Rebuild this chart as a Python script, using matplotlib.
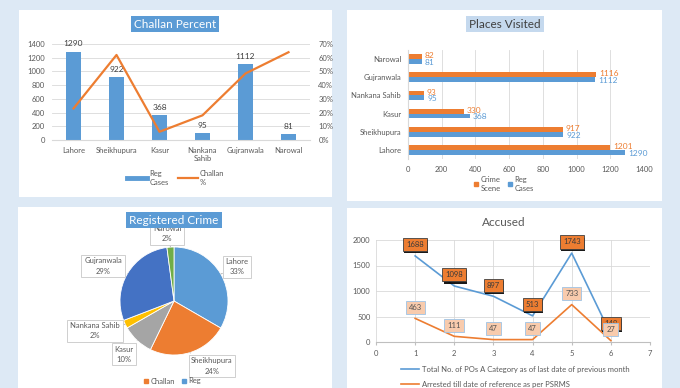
import numpy as np
import matplotlib.pyplot as plt
from matplotlib.patches import Rectangle
from matplotlib.lines import Line2D
import matplotlib.patheffects as pe

plt.rcParams['font.family'] = ['Lato', 'DejaVu Sans']

# data
districts = ['Lahore', 'Sheikhupura', 'Kasur', 'Nankana Sahib', 'Gujranwala', 'Narowal']
reg_cases = [1290, 922, 368, 95, 1112, 81]
challan_pct = [23, 62, 6, 18, 48.5, 64]
crime_scene = [1201, 917, 330, 93, 1116, 82]
months = [1, 2, 3, 4, 5, 6]
total_pos = [1688, 1098, 897, 513, 1743, 148]
arrested = [463, 111, 47, 47, 733, 27]

blue = '#5b9bd5'
orange = '#ed7d31'
pie_colors = ['#5b9bd5', '#ed7d31', '#a5a5a5', '#ffc000', '#4472c4', '#70ad47']
grid_c = '#d9d9d9'
txt_c = '#595959'

W, H = 680, 388
fig = plt.figure(figsize=(6.8, 3.88), dpi=100)
fig.patch.set_facecolor('#dde9f5')


def rect(x0, y0, x1, y1):
    return [x0 / W, 1 - y1 / H, (x1 - x0) / W, (y1 - y0) / H]


def panel(x0, y0, x1, y1):
    fig.add_artist(Rectangle((x0 / W, 1 - y1 / H), (x1 - x0) / W, (y1 - y0) / H,
                             transform=fig.transFigure, facecolor='white',
                             edgecolor='none', zorder=-1))


def title(x, y, s, fc, tc, size=8.5):
    fig.text(x / W, 1 - y / H, s, ha='center', va='center', color=tc, fontsize=size,
             bbox=dict(boxstyle='square,pad=0.25', fc=fc, ec='none'), zorder=5)


panel(19, 10, 332, 197)
panel(347, 10, 662, 201)
panel(18, 207, 332, 388)
panel(347, 208, 662, 388)

# ---- Challan Percent
ax1 = fig.add_axes(rect(52, 44, 310, 140))
x = np.arange(len(districts))
bars = ax1.bar(x, reg_cases, width=0.33, color=blue, zorder=2)
ax1.bar_label(bars, padding=3, fontsize=6, color='#404040')
ax1.set_xlim(-0.5, 5.5)
ax1.set_ylim(0, 1400)
ax1.set_yticks(range(0, 1401, 200))
ax1.set_xticks(x, ['Lahore', 'Sheikhupura', 'Kasur', 'Nankana\nSahib', 'Gujranwala', 'Narowal'])
ax1.grid(axis='y', color=grid_c, lw=0.6, zorder=0)
for s in ['top', 'right', 'left']:
    ax1.spines[s].set_visible(False)
ax1.spines['bottom'].set_color(grid_c)
ax1.tick_params(length=0, labelsize=5.5, labelcolor=txt_c, pad=5)
ax1b = ax1.twinx()
ax1b.plot(x, challan_pct, color=orange, lw=1.6)
ax1b.set_ylim(0, 70)
ax1b.set_yticks(range(0, 71, 10), [f'{v}%' for v in range(0, 71, 10)])
ax1b.tick_params(length=0, labelsize=5.5, labelcolor=txt_c, pad=6)
for s in ax1b.spines.values():
    s.set_visible(False)
fig.legend([Line2D([0], [0], color=blue, lw=3.5), Line2D([0], [0], color=orange, lw=1.6)],
           ['Reg\nCases', 'Challan\n%'], loc='center', bbox_to_anchor=(176 / W, 1 - 178 / H),
           ncol=2, frameon=False, fontsize=5.5, handlelength=2.6, columnspacing=1.2,
           labelcolor=txt_c, handletextpad=0.3)
title(175, 24, 'Challan Percent', blue, 'white')

# ---- Places Visited
ax2 = fig.add_axes(rect(408, 50, 644, 159))
h = 0.27
ax2.barh(x + h / 2, crime_scene, height=h, color=orange, zorder=2)
ax2.barh(x - h / 2, reg_cases, height=h, color=blue, zorder=2)
for i in x:
    ax2.text(crime_scene[i] + 18, i + h / 2 + 0.05, str(crime_scene[i]), color=orange,
             fontsize=6, va='center')
    ax2.text(reg_cases[i] + 18, i - h / 2 - 0.05, str(reg_cases[i]), color=blue,
             fontsize=6, va='center')
ax2.set_xlim(0, 1400)
ax2.set_ylim(-0.5, 5.5)
ax2.set_xticks(range(0, 1401, 200))
ax2.set_yticks(x, districts)
ax2.grid(axis='x', color=grid_c, lw=0.6, zorder=0)
for s in ['top', 'right', 'bottom']:
    ax2.spines[s].set_visible(False)
ax2.spines['left'].set_color(grid_c)
ax2.tick_params(length=0, labelsize=5.5, labelcolor=txt_c, pad=5)
fig.legend([Line2D([0], [0], marker='s', ls='none', color=orange, ms=3.5),
            Line2D([0], [0], marker='s', ls='none', color=blue, ms=3.5)],
           ['Crime\nScene', 'Reg\nCases'], loc='center', bbox_to_anchor=(503 / W, 1 - 184 / H),
           ncol=2, frameon=False, fontsize=5.5, handlelength=0.8, columnspacing=0.8,
           labelcolor=txt_c, handletextpad=0.2)
title(505, 24, 'Places Visited', '#c5d9ee', '#404040')

# ---- Registered Crime
ax3 = fig.add_axes(rect(120, 247, 228, 355))
wedges, _ = ax3.pie(reg_cases, colors=pie_colors, startangle=90, counterclock=False,
                    radius=1, wedgeprops=dict(lw=0.6, ec='white'))
ax3.set_xlim(-1, 1)
ax3.set_ylim(-1, 1)
ax3.set_aspect('equal')
total = sum(reg_cases)
label_pos = [(237, 267), (212, 366), (124, 354), (95, 331), (103, 266), (167, 234)]
for w, name, v, (px, py) in zip(wedges, districts, reg_cases, label_pos):
    ang = np.deg2rad((w.theta1 + w.theta2) / 2)
    tx, ty = (px - 174) / 54, (301 - py) / 54
    ax3.annotate(f'{name}\n{round(v / total * 100)}%', xy=(np.cos(ang), np.sin(ang)),
                 xytext=(tx, ty), ha='center', va='center', fontsize=5.5, color=txt_c,
                 linespacing=1.5, annotation_clip=False,
                 bbox=dict(boxstyle='square,pad=0.35', fc='white', ec='#c8c8c8', lw=0.6),
                 arrowprops=dict(arrowstyle='-', color='#a6a6a6', lw=0.5))
fig.legend([Line2D([0], [0], marker='s', ls='none', color=orange, ms=3.5),
            Line2D([0], [0], marker='s', ls='none', color=blue, ms=3.5)],
           ['Challan', 'Reg'], loc='center', bbox_to_anchor=(172 / W, 1 - 381 / H),
           ncol=2, frameon=False, fontsize=5.5, handlelength=0.8, columnspacing=0.8,
           labelcolor=txt_c, handletextpad=0.2)
title(174, 220, 'Registered Crime', blue, 'white')

# ---- Accused
ax4 = fig.add_axes(rect(376, 240, 650, 342))
ax4.plot(months, total_pos, color=blue, lw=1.2)
ax4.plot(months, arrested, color=orange, lw=1.2)
shadow = [pe.withSimplePatchShadow(offset=(0.8, -1.5), shadow_rgbFace='black', alpha=0.9)]
for m, v in zip(months, total_pos):
    t = ax4.annotate(str(v), (m, v), xytext=(0, 8), textcoords='offset points', ha='center',
                     va='center', fontsize=5.5, color='#3a3a3a',
                     bbox=dict(boxstyle='square,pad=0.4', fc=orange, ec='#404040', lw=0.6))
    t.get_bbox_patch().set_path_effects(shadow)
for m, v in zip(months, arrested):
    ax4.annotate(str(v), (m, v), xytext=(0, 8), textcoords='offset points', ha='center',
                 va='center', fontsize=5.5, color='#505050',
                 bbox=dict(boxstyle='square,pad=0.4', fc='#f8cbad', ec='#9dc3e6', lw=0.6))
ax4.set_xlim(0, 7)
ax4.set_ylim(0, 2000)
ax4.set_yticks(range(0, 2001, 500))
ax4.grid(color=grid_c, lw=0.6)
for s in ['top', 'right', 'left']:
    ax4.spines[s].set_visible(False)
ax4.spines['bottom'].set_color('#bfbfbf')
ax4.tick_params(axis='y', length=0)
ax4.tick_params(axis='x', length=2, color='#bfbfbf')
ax4.tick_params(labelsize=5.5, labelcolor=txt_c, pad=4)
fig.legend([Line2D([0], [0], color=blue, lw=1.2), Line2D([0], [0], color=orange, lw=1.2)],
           ['Total No. of POs A Category as of last date of previous month',
            'Arrested till date of reference as per PSRMS'],
           loc='upper left', bbox_to_anchor=(394 / W, 1 - 359 / H), frameon=False,
           fontsize=5.5, handlelength=2.4, labelspacing=1.0, labelcolor=txt_c,
           handletextpad=0.3)
fig.text(504 / W, 1 - 222 / H, 'Accused', ha='center', va='center', fontsize=8.5, color=txt_c)

plt.savefig('out.png', dpi=100, facecolor=fig.get_facecolor())
